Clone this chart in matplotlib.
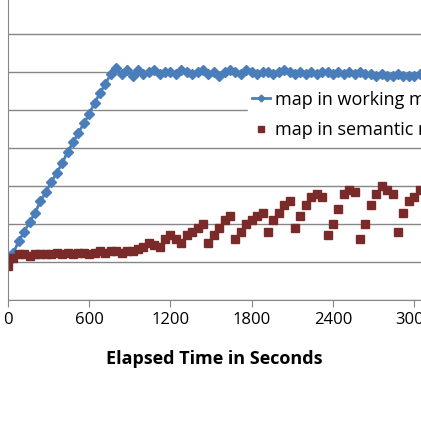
import numpy as np
import matplotlib.pyplot as plt

plt.rcParams['font.family'] = ['Open Sans', 'DejaVu Sans']

step = 40  # seconds between samples
working = [1.0, 1.25, 1.55, 1.8, 2.05, 2.3, 2.6, 2.85, 3.1, 3.35, 3.6, 3.9, 4.15, 4.4,
           4.65, 4.9, 5.2, 5.45, 5.7, 5.95,
           6.1, 5.95, 6.05, 5.9, 6.05, 5.95, 6.0, 6.05, 5.95, 6.0, 6.0, 5.95, 6.05, 6.0,
           5.95, 6.0, 6.05, 5.95, 6.0, 5.9, 6.0, 6.05, 6.0, 5.95, 6.05, 6.0, 5.95, 6.0,
           6.0, 5.95, 6.0, 6.05, 6.0, 5.95, 6.0, 5.95, 6.0, 5.95, 6.0, 6.0, 5.95, 6.0,
           5.95, 6.0, 5.95, 6.0, 5.95, 5.95, 5.9, 5.95, 5.9, 5.9, 5.95, 5.9, 5.9, 5.9, 5.95]
semantic = [0.9, 1.1, 1.2, 1.2, 1.15, 1.2, 1.2, 1.2, 1.2, 1.25, 1.2, 1.25, 1.2, 1.25,
            1.25, 1.2, 1.25, 1.3, 1.25, 1.3, 1.3, 1.25, 1.3,
            1.3, 1.35, 1.4, 1.5, 1.45, 1.4, 1.6, 1.7, 1.6, 1.5, 1.7, 1.8, 1.9, 2.0,
            1.5, 1.7, 1.9, 2.1, 2.2, 1.6, 1.8, 2.0, 2.1, 2.2, 2.3, 1.8, 2.1, 2.3, 2.5,
            2.6, 1.9, 2.2, 2.5, 2.7, 2.8, 2.7, 1.7, 2.0, 2.4, 2.8, 2.9, 2.85, 1.6, 2.0,
            2.5, 2.8, 3.0, 2.9, 2.8, 1.8, 2.3, 2.6, 2.7, 2.9]
xticks = [0, 600, 1200, 1800, 2400, 3000]

t_work = np.arange(len(working)) * step
t_sem = np.arange(len(semantic)) * step

fig = plt.figure(figsize=(4.21, 4.21), dpi=100)
ax = fig.add_axes([8 / 421, 121 / 421, 1 - 8 / 421, 300 / 421])
ax.plot(t_work, working, 'D-', color='#4a7ebb', ms=5, lw=2, label='map in working memory')
ax.plot(t_sem, semantic, 's', color='#7b2a2a', ms=5.5, label='map in semantic memory')

ax.set_xlim(0, 3050)
ax.set_ylim(0, 7.9)
ax.set_xticks(xticks)
ax.set_yticks(range(0, 8))
ax.set_yticklabels([])
ax.tick_params(axis='y', length=0)
ax.tick_params(axis='x', labelsize=12, length=5, color='#868686')
ax.grid(axis='y', color='#868686', lw=1)
for s in ['top', 'right']:
    ax.spines[s].set_visible(False)
for s in ['left', 'bottom']:
    ax.spines[s].set_color('#868686')
ax.set_xlabel('Elapsed Time in Seconds', fontsize=13, fontweight='bold', labelpad=16)

leg = ax.legend(loc='upper left', bbox_to_anchor=(0.56, 0.74), fontsize=13, frameon=True,
                framealpha=1, edgecolor='white', handletextpad=0.3, borderpad=0.2,
                labelspacing=0.7, handlelength=1, markerscale=0.7)
fig.savefig('out.png', dpi=100)
